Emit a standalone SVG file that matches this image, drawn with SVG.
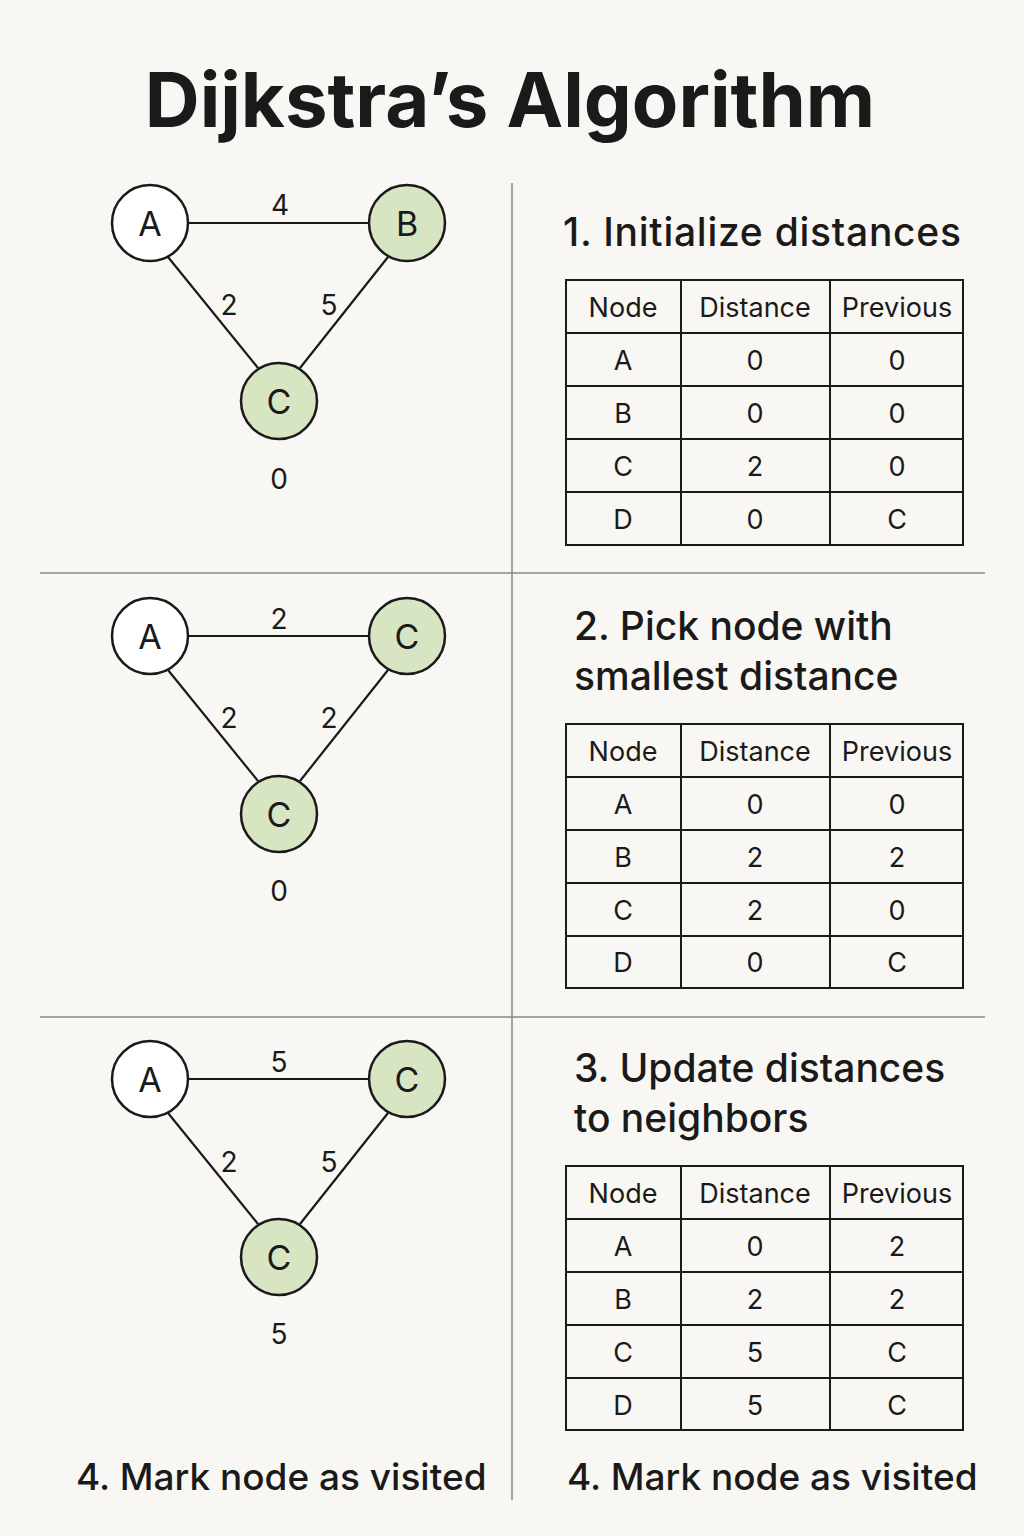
<svg xmlns="http://www.w3.org/2000/svg" width="1024" height="1536" viewBox="0 0 1024 1536">
<style>
text{font-family:Inter,"Noto Sans","Liberation Sans",sans-serif;fill:#1a1a1a}
.n{fill:#fff;stroke:#1a1a1a;stroke-width:2.5}
.g{fill:#d8e5c3;stroke:#1a1a1a;stroke-width:2.5}
.nl{font-size:34px;text-anchor:middle;dominant-baseline:central}
.el{font-size:28px;text-anchor:middle}
.h{font-size:39px;font-weight:500}
.b{font-size:37px;font-weight:500}
.t{fill:none;stroke:#1a1a1a;stroke-width:2}
.tc{font-size:27px;text-anchor:middle;dominant-baseline:central}
line{stroke:#1a1a1a;stroke-width:2.2}
.div{stroke:#888;stroke-width:1.5}
</style>
<rect width="1024" height="1536" fill="#f9f7f3"/>
<text x="510" y="127" font-size="76" font-weight="700" text-anchor="middle">Dijkstra’s Algorithm</text>
<g id="dividers">
<line class="div" x1="512" y1="183" x2="512" y2="1500"/>
<line class="div" x1="40" y1="573" x2="985" y2="573"/>
<line class="div" x1="40" y1="1017" x2="985" y2="1017"/>
</g>
<g id="connectors">
<line x1="188" y1="223" x2="369" y2="223"/><line x1="168" y1="257" x2="258" y2="368"/><line x1="388" y1="257" x2="300" y2="368"/>
<line x1="188" y1="636" x2="369" y2="636"/><line x1="168" y1="670" x2="258" y2="781"/><line x1="388" y1="670" x2="300" y2="781"/>
<line x1="188" y1="1079" x2="369" y2="1079"/><line x1="168" y1="1113" x2="258" y2="1224"/><line x1="388" y1="1113" x2="300" y2="1224"/>
<text class="el" x="280" y="215">4</text><text class="el" x="229" y="315">2</text><text class="el" x="329" y="315">5</text>
<text class="el" x="279" y="629">2</text><text class="el" x="229" y="728">2</text><text class="el" x="329" y="728">2</text>
<text class="el" x="279" y="1072">5</text><text class="el" x="229" y="1172">2</text><text class="el" x="329" y="1172">5</text>
</g>
<g id="g1">
<g id="n1a"><circle class="n" cx="150" cy="223" r="38"/><text class="nl" x="150" y="223">A</text></g>
<g id="n1b"><circle class="g" cx="407" cy="223" r="38"/><text class="nl" x="407" y="223">B</text></g>
<g id="n1c"><circle class="g" cx="279" cy="401" r="38"/><text class="nl" x="279" y="401">C</text></g>
<text class="el" x="279" y="489">0</text>
</g>
<g id="g2">
<g id="n2a"><circle class="n" cx="150" cy="636" r="38"/><text class="nl" x="150" y="636">A</text></g>
<g id="n2b"><circle class="g" cx="407" cy="636" r="38"/><text class="nl" x="407" y="636">C</text></g>
<g id="n2c"><circle class="g" cx="279" cy="814" r="38"/><text class="nl" x="279" y="814">C</text></g>
<text class="el" x="279" y="901">0</text>
</g>
<g id="g3">
<g id="n3a"><circle class="n" cx="150" cy="1079" r="38"/><text class="nl" x="150" y="1079">A</text></g>
<g id="n3b"><circle class="g" cx="407" cy="1079" r="38"/><text class="nl" x="407" y="1079">C</text></g>
<g id="n3c"><circle class="g" cx="279" cy="1257" r="38"/><text class="nl" x="279" y="1257">C</text></g>
<text class="el" x="279" y="1344">5</text>
</g>
<g id="headings">
<text class="h" x="563" y="246" textLength="398">1. Initialize distances</text>
<text class="h" x="574" y="640">2. Pick node with</text><text class="h" x="574" y="690">smallest distance</text>
<text class="h" x="574" y="1082">3. Update distances</text><text class="h" x="574" y="1132">to neighbors</text>
<text class="b" x="76" y="1490">4. Mark node as visited</text>
<text class="b" x="567" y="1490">4. Mark node as visited</text>
</g>
<g id="table1">
<rect class="t" x="566" y="280" width="397" height="265"/>
<path class="t" d="M566 333H963M566 386H963M566 439H963M566 492H963M681 280V545M830 280V545"/>
<text class="tc" x="623" y="307">Node</text><text class="tc" x="755" y="307">Distance</text><text class="tc" x="897" y="307">Previous</text>
<text class="tc" x="623" y="360">A</text><text class="tc" x="755" y="360">0</text><text class="tc" x="897" y="360">0</text>
<text class="tc" x="623" y="413">B</text><text class="tc" x="755" y="413">0</text><text class="tc" x="897" y="413">0</text>
<text class="tc" x="623" y="466">C</text><text class="tc" x="755" y="466">2</text><text class="tc" x="897" y="466">0</text>
<text class="tc" x="623" y="519">D</text><text class="tc" x="755" y="519">0</text><text class="tc" x="897" y="519">C</text>
</g>
<g id="table2">
<rect class="t" x="566" y="724" width="397" height="264"/>
<path class="t" d="M566 777H963M566 830H963M566 883H963M566 936H963M681 724V988M830 724V988"/>
<text class="tc" x="623" y="751">Node</text><text class="tc" x="755" y="751">Distance</text><text class="tc" x="897" y="751">Previous</text>
<text class="tc" x="623" y="804">A</text><text class="tc" x="755" y="804">0</text><text class="tc" x="897" y="804">0</text>
<text class="tc" x="623" y="857">B</text><text class="tc" x="755" y="857">2</text><text class="tc" x="897" y="857">2</text>
<text class="tc" x="623" y="910">C</text><text class="tc" x="755" y="910">2</text><text class="tc" x="897" y="910">0</text>
<text class="tc" x="623" y="962">D</text><text class="tc" x="755" y="962">0</text><text class="tc" x="897" y="962">C</text>
</g>
<g id="table3">
<rect class="t" x="566" y="1166" width="397" height="264"/>
<path class="t" d="M566 1219H963M566 1272H963M566 1325H963M566 1378H963M681 1166V1430M830 1166V1430"/>
<text class="tc" x="623" y="1193">Node</text><text class="tc" x="755" y="1193">Distance</text><text class="tc" x="897" y="1193">Previous</text>
<text class="tc" x="623" y="1246">A</text><text class="tc" x="755" y="1246">0</text><text class="tc" x="897" y="1246">2</text>
<text class="tc" x="623" y="1299">B</text><text class="tc" x="755" y="1299">2</text><text class="tc" x="897" y="1299">2</text>
<text class="tc" x="623" y="1352">C</text><text class="tc" x="755" y="1352">5</text><text class="tc" x="897" y="1352">C</text>
<text class="tc" x="623" y="1405">D</text><text class="tc" x="755" y="1405">5</text><text class="tc" x="897" y="1405">C</text>
</g>
</svg>
